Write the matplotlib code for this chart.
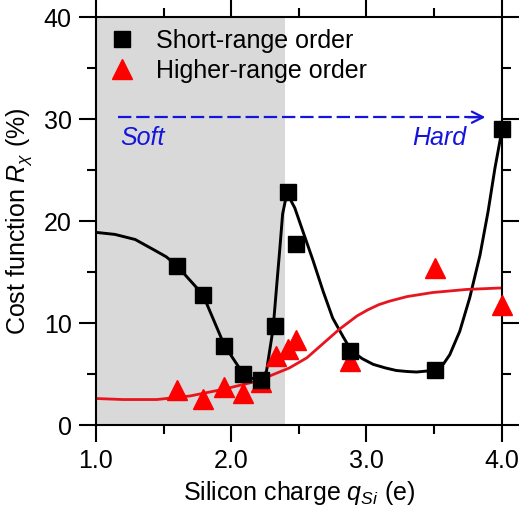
import matplotlib
matplotlib.use('Agg')
import matplotlib.pyplot as plt

plt.rcParams['font.family'] = ['Liberation Sans', 'DejaVu Sans']
plt.rcParams['mathtext.fontset'] = 'custom'
plt.rcParams['mathtext.rm'] = 'Liberation Sans'
plt.rcParams['mathtext.it'] = 'Liberation Sans:italic'
plt.rcParams['font.size'] = 18

# measured points
q_short = [1.60, 1.79, 1.95, 2.09, 2.22, 2.32, 2.42, 2.48, 2.88, 3.51, 4.00]
r_short = [15.6, 12.8, 7.8, 5.0, 4.4, 9.7, 22.9, 17.8, 7.3, 5.4, 29.0]
q_higher = [1.60, 1.79, 1.95, 2.09, 2.22, 2.33, 2.42, 2.48, 2.88, 3.51, 4.00]
r_higher = [3.4, 2.6, 3.7, 3.1, 4.2, 6.8, 7.5, 8.3, 6.3, 15.4, 11.8]

# fitted curves
q_fit_short = [1.0, 1.14, 1.29, 1.44, 1.52, 1.60, 1.79, 1.95, 2.09, 2.15, 2.20,
               2.235, 2.261, 2.31, 2.335, 2.36, 2.38, 2.40, 2.43, 2.47, 2.53,
               2.606, 2.68, 2.75, 2.83, 2.89, 2.97, 3.05, 3.14, 3.22, 3.30, 3.37,
               3.45, 3.52, 3.57, 3.616, 3.69, 3.764, 3.84, 3.90, 3.95, 4.0]
r_fit_short = [18.9, 18.7, 18.2, 17.1, 16.5, 15.6, 12.8, 7.8, 5.0, 4.6, 4.4,
               4.7, 5.3, 9.5, 13.5, 17.4, 20.7, 22.0, 22.3, 21.3, 19.0,
               16.1, 13.1, 10.5, 8.6, 7.25, 6.5, 5.95, 5.6, 5.35, 5.25, 5.2,
               5.3, 5.5, 6.0, 6.9, 9.2, 12.5, 16.7, 21.0, 25.2, 28.8]
q_fit_higher = [1.0, 1.2, 1.45, 1.695, 1.94, 2.19, 2.43, 2.56, 2.68, 2.80, 2.93,
                3.01, 3.09, 3.17, 3.30, 3.49, 3.74, 4.0]
r_fit_higher = [2.6, 2.5, 2.5, 2.85, 3.5, 4.3, 5.6, 6.6, 8.0, 9.4, 10.7,
                11.3, 11.8, 12.15, 12.6, 13.0, 13.3, 13.45]

soft_limit = 2.4
blue = '#1414dc'

fig = plt.figure(figsize=(5.2, 5.09), dpi=100)
ax = fig.add_axes([0.1846, 0.165, 0.7802, 0.801])

ax.axvspan(1.0, soft_limit, color='#d9d9d9', lw=0, zorder=0)

ax.plot(q_fit_short, r_fit_short, color='black', lw=2.1, zorder=2,
        solid_joinstyle='round')
ax.plot(q_fit_higher, r_fit_higher, color='#e8141e', lw=2.0, zorder=2,
        solid_joinstyle='round')
ax.plot(q_higher, r_higher, ls='none', marker='^', ms=14, color='#ff0000',
        mec='#ff0000', label='Higher-range order', zorder=3, clip_on=False)
ax.plot(q_short, r_short, ls='none', marker='s', ms=12, color='black',
        label='Short-range order', zorder=4, clip_on=False)

# soft -> hard arrow
ax.plot([1.16, 3.84], [30.2, 30.2], color=blue, lw=1.6, dashes=(6, 2.2))
ax.annotate('', xy=(3.88, 30.2), xytext=(3.75, 30.2),
            arrowprops=dict(arrowstyle='->', color=blue, lw=1.6,
                            mutation_scale=20, shrinkA=0, shrinkB=0))
ax.text(1.18, 28.2, 'Soft', color=blue, style='italic', fontsize=18,
        ha='left', va='center')
ax.text(3.74, 28.2, 'Hard', color=blue, style='italic', fontsize=18,
        ha='right', va='center')

ax.set_xlim(1.0, 4.0)
ax.set_ylim(0, 40)
ax.set_xticks([1.0, 2.0, 3.0, 4.0])
ax.set_xticklabels(['1.0', '2.0', '3.0', '4.0'])
ax.set_xticks([1.5, 2.5, 3.5], minor=True)
ax.set_yticks([0, 10, 20, 30, 40])
ax.set_yticks([5, 15, 25, 35], minor=True)
ax.tick_params(which='both', direction='out', top=True, right=True, width=1.5,
               labelsize=18, pad=5)
ax.tick_params(which='major', length=12.5)
ax.tick_params(which='minor', length=6.2)
for s in ax.spines.values():
    s.set_linewidth(1.5)

ax.set_xlabel(r'Silicon charge $q_{Si}$ (e)', fontsize=18, labelpad=4)
ax.set_ylabel(r'Cost function $R_{\chi}$ (%)', fontsize=18, labelpad=7)

h, l = ax.get_legend_handles_labels()
ax.legend(h[::-1], l[::-1], loc='upper left', frameon=False, fontsize=18,
          handletextpad=0.75, borderaxespad=0.1, labelspacing=0.25,
          handlelength=1.2, borderpad=0.35)

fig.savefig('out.png', dpi=100)
